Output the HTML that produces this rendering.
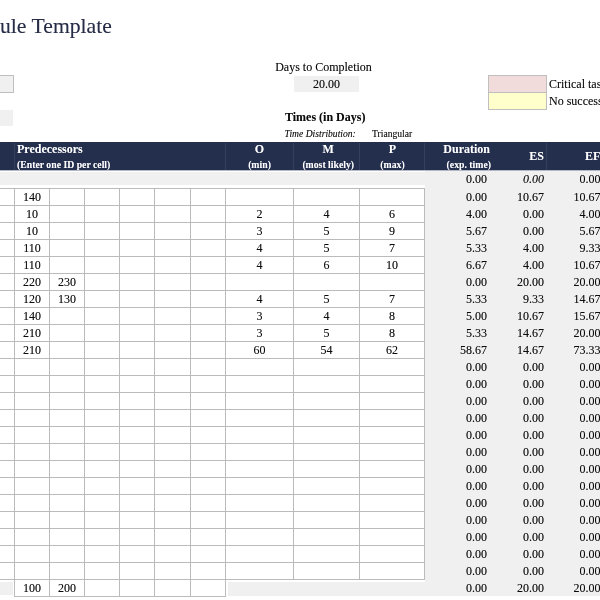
<!DOCTYPE html>
<html><head><meta charset="utf-8"><title>Schedule Template</title>
<style>
html,body{margin:0;padding:0;background:#fff;}
body{width:600px;height:600px;overflow:hidden;position:relative;font-family:"Liberation Serif","Times New Roman",serif;color:#0c0c0c;text-shadow:0 0 0.6px rgba(0,0,0,0.35);}
.a{position:absolute;white-space:nowrap;}
.t{position:absolute;white-space:nowrap;font-size:12px;line-height:17px;height:17px;}
.c{text-align:center;}
.r{text-align:right;}
.hl{position:absolute;background:#bbbbbb;height:1px;}
.vl{position:absolute;background:#bbbbbb;width:1px;}
.h{position:absolute;white-space:nowrap;color:#fff;font-weight:bold;text-shadow:0 0 0.6px rgba(255,255,255,0.3);}
</style></head><body>

<div class="a" style="left:0px;top:10.6px;font-size:21.7px;line-height:30px;color:#272c47;text-shadow:0 0 0.6px rgba(39,44,71,0.35);">ule Template</div>
<div class="a" style="left:-3px;top:75px;width:15px;height:16px;background:#f0f0f0;border:1px solid #bfbfbf;"></div>
<div class="a" style="left:0;top:110px;width:13px;height:16px;background:#f0f0f0;"></div>
<div class="a c" style="left:243.5px;width:160px;top:59px;font-size:12px;line-height:16px;">Days to Completion</div>
<div class="a c" style="left:294px;width:65px;top:76px;height:16px;background:#f0f0f0;font-size:12px;line-height:17px;">20.00</div>
<div class="a c" style="left:245.2px;width:160px;top:109px;font-size:12px;line-height:16px;font-weight:bold;">Times (in Days)</div>
<div class="a" style="left:284.6px;top:127.5px;font-size:9.6px;line-height:12px;font-style:italic;">Time Distribution:</div>
<div class="a" style="left:372px;top:127.5px;font-size:9.6px;line-height:12px;">Triangular</div>
<div class="a" style="left:488px;top:75px;width:57px;height:17px;background:#f2dcdb;border:1px solid #bfbfbf;"></div>
<div class="a" style="left:488px;top:92px;width:57px;height:16px;background:#ffffcc;border:1px solid #bfbfbf;"></div>
<div class="a" style="left:549px;top:75.6px;font-size:12px;line-height:16px;">Critical tasks</div>
<div class="a" style="left:549px;top:92.6px;font-size:12px;line-height:16px;">No successors</div>
<div class="a" style="left:425px;top:171px;width:175px;height:425px;background:#f0f0f0;"></div>
<div class="a" style="left:0;top:172px;width:600px;height:13px;background:#f0f0f0;"></div>
<div class="a" style="left:0;top:142px;width:600px;height:28px;background:#242e4d;"></div>
<div class="a" style="left:0;top:170px;width:600px;height:1px;background:#b4b8c4;"></div>
<div class="a" style="left:14px;top:143px;width:1px;height:27px;background:#353f60;"></div>
<div class="a" style="left:225px;top:143px;width:1px;height:27px;background:#353f60;"></div>
<div class="a" style="left:293px;top:143px;width:1px;height:27px;background:#353f60;"></div>
<div class="a" style="left:359px;top:143px;width:1px;height:27px;background:#353f60;"></div>
<div class="a" style="left:424px;top:143px;width:1px;height:27px;background:#353f60;"></div>
<div class="a" style="left:546px;top:143px;width:1px;height:27px;background:#353f60;"></div>
<div class="h" style="left:17px;top:142px;font-size:12px;line-height:14px;">Predecessors</div>
<div class="h" style="left:17px;top:157.5px;font-size:9.75px;line-height:14px;">(Enter one ID per cell)</div>
<div class="h c" style="left:225px;width:69px;top:142px;font-size:12px;line-height:14px;">O</div>
<div class="h c" style="left:225px;width:69px;top:157.5px;font-size:9.75px;line-height:14px;">(min)</div>
<div class="h c" style="left:294px;width:68.5px;top:142px;font-size:12px;line-height:14px;">M</div>
<div class="h c" style="left:294px;width:68.5px;top:157.5px;font-size:9.75px;line-height:14px;">(most likely)</div>
<div class="h c" style="left:359px;width:67px;top:142px;font-size:12px;line-height:14px;">P</div>
<div class="h c" style="left:359px;width:67px;top:157.5px;font-size:9.75px;line-height:14px;">(max)</div>
<div class="h r" style="left:426px;width:64px;top:142px;font-size:12px;line-height:14px;">Duration</div>
<div class="h r" style="left:426px;width:65px;top:157.5px;font-size:9.75px;line-height:14px;">(exp. time)</div>
<div class="h r" style="left:496px;width:48px;top:149px;font-size:12px;line-height:14px;">ES</div>
<div class="h" style="left:585px;top:149px;font-size:12px;line-height:14px;">EF</div>
<div class="t r" style="left:430px;width:57px;top:171px;">0.00</div>
<div class="t r" style="left:496px;width:48px;top:171px;font-style:italic;">0.00</div>
<div class="t r" style="left:550.5px;width:50px;top:171px;">0.00</div>
<div class="a" style="left:0;top:188px;width:425px;height:391px;background:#fff;"></div>
<div class="a" style="left:0;top:582px;width:13px;height:13px;background:#f0f0f0;"></div>
<div class="a" style="left:228px;top:582px;width:200px;height:14px;background:#f0f0f0;"></div>
<div class="hl" style="left:0;top:188px;width:425px;"></div>
<div class="hl" style="left:0;top:205px;width:425px;"></div>
<div class="hl" style="left:0;top:222px;width:425px;"></div>
<div class="hl" style="left:0;top:239px;width:425px;"></div>
<div class="hl" style="left:0;top:256px;width:425px;"></div>
<div class="hl" style="left:0;top:273px;width:425px;"></div>
<div class="hl" style="left:0;top:290px;width:425px;"></div>
<div class="hl" style="left:0;top:307px;width:425px;"></div>
<div class="hl" style="left:0;top:324px;width:425px;"></div>
<div class="hl" style="left:0;top:341px;width:425px;"></div>
<div class="hl" style="left:0;top:358px;width:425px;"></div>
<div class="hl" style="left:0;top:375px;width:425px;"></div>
<div class="hl" style="left:0;top:392px;width:425px;"></div>
<div class="hl" style="left:0;top:409px;width:425px;"></div>
<div class="hl" style="left:0;top:426px;width:425px;"></div>
<div class="hl" style="left:0;top:443px;width:425px;"></div>
<div class="hl" style="left:0;top:460px;width:425px;"></div>
<div class="hl" style="left:0;top:477px;width:425px;"></div>
<div class="hl" style="left:0;top:494px;width:425px;"></div>
<div class="hl" style="left:0;top:511px;width:425px;"></div>
<div class="hl" style="left:0;top:528px;width:425px;"></div>
<div class="hl" style="left:0;top:545px;width:425px;"></div>
<div class="hl" style="left:0;top:562px;width:425px;"></div>
<div class="hl" style="left:0;top:579px;width:425px;"></div>
<div class="hl" style="left:14px;top:596px;width:212px;"></div>
<div class="vl" style="left:14px;top:188px;height:409px;"></div>
<div class="vl" style="left:49px;top:188px;height:409px;"></div>
<div class="vl" style="left:84px;top:188px;height:409px;"></div>
<div class="vl" style="left:119px;top:188px;height:409px;"></div>
<div class="vl" style="left:154px;top:188px;height:409px;"></div>
<div class="vl" style="left:190px;top:188px;height:409px;"></div>
<div class="vl" style="left:225px;top:188px;height:409px;"></div>
<div class="vl" style="left:293px;top:188px;height:392px;"></div>
<div class="vl" style="left:359px;top:188px;height:392px;"></div>
<div class="vl" style="left:424px;top:188px;height:392px;"></div>
<div class="t c" style="left:15px;width:34px;top:189px;">140</div>
<div class="t r" style="left:430px;width:57px;top:189px;">0.00</div>
<div class="t r" style="left:496px;width:48px;top:189px;">10.67</div>
<div class="t r" style="left:550.5px;width:50px;top:189px;">10.67</div>
<div class="t c" style="left:15px;width:34px;top:206px;">10</div>
<div class="t c" style="left:226px;width:67px;top:206px;">2</div>
<div class="t c" style="left:294px;width:65px;top:206px;">4</div>
<div class="t c" style="left:360px;width:64px;top:206px;">6</div>
<div class="t r" style="left:430px;width:57px;top:206px;">4.00</div>
<div class="t r" style="left:496px;width:48px;top:206px;">0.00</div>
<div class="t r" style="left:550.5px;width:50px;top:206px;">4.00</div>
<div class="t c" style="left:15px;width:34px;top:223px;">10</div>
<div class="t c" style="left:226px;width:67px;top:223px;">3</div>
<div class="t c" style="left:294px;width:65px;top:223px;">5</div>
<div class="t c" style="left:360px;width:64px;top:223px;">9</div>
<div class="t r" style="left:430px;width:57px;top:223px;">5.67</div>
<div class="t r" style="left:496px;width:48px;top:223px;">0.00</div>
<div class="t r" style="left:550.5px;width:50px;top:223px;">5.67</div>
<div class="t c" style="left:15px;width:34px;top:240px;">110</div>
<div class="t c" style="left:226px;width:67px;top:240px;">4</div>
<div class="t c" style="left:294px;width:65px;top:240px;">5</div>
<div class="t c" style="left:360px;width:64px;top:240px;">7</div>
<div class="t r" style="left:430px;width:57px;top:240px;">5.33</div>
<div class="t r" style="left:496px;width:48px;top:240px;">4.00</div>
<div class="t r" style="left:550.5px;width:50px;top:240px;">9.33</div>
<div class="t c" style="left:15px;width:34px;top:257px;">110</div>
<div class="t c" style="left:226px;width:67px;top:257px;">4</div>
<div class="t c" style="left:294px;width:65px;top:257px;">6</div>
<div class="t c" style="left:360px;width:64px;top:257px;">10</div>
<div class="t r" style="left:430px;width:57px;top:257px;">6.67</div>
<div class="t r" style="left:496px;width:48px;top:257px;">4.00</div>
<div class="t r" style="left:550.5px;width:50px;top:257px;">10.67</div>
<div class="t c" style="left:15px;width:34px;top:274px;">220</div>
<div class="t c" style="left:50px;width:34px;top:274px;">230</div>
<div class="t r" style="left:430px;width:57px;top:274px;">0.00</div>
<div class="t r" style="left:496px;width:48px;top:274px;">20.00</div>
<div class="t r" style="left:550.5px;width:50px;top:274px;">20.00</div>
<div class="t c" style="left:15px;width:34px;top:291px;">120</div>
<div class="t c" style="left:50px;width:34px;top:291px;">130</div>
<div class="t c" style="left:226px;width:67px;top:291px;">4</div>
<div class="t c" style="left:294px;width:65px;top:291px;">5</div>
<div class="t c" style="left:360px;width:64px;top:291px;">7</div>
<div class="t r" style="left:430px;width:57px;top:291px;">5.33</div>
<div class="t r" style="left:496px;width:48px;top:291px;">9.33</div>
<div class="t r" style="left:550.5px;width:50px;top:291px;">14.67</div>
<div class="t c" style="left:15px;width:34px;top:308px;">140</div>
<div class="t c" style="left:226px;width:67px;top:308px;">3</div>
<div class="t c" style="left:294px;width:65px;top:308px;">4</div>
<div class="t c" style="left:360px;width:64px;top:308px;">8</div>
<div class="t r" style="left:430px;width:57px;top:308px;">5.00</div>
<div class="t r" style="left:496px;width:48px;top:308px;">10.67</div>
<div class="t r" style="left:550.5px;width:50px;top:308px;">15.67</div>
<div class="t c" style="left:15px;width:34px;top:325px;">210</div>
<div class="t c" style="left:226px;width:67px;top:325px;">3</div>
<div class="t c" style="left:294px;width:65px;top:325px;">5</div>
<div class="t c" style="left:360px;width:64px;top:325px;">8</div>
<div class="t r" style="left:430px;width:57px;top:325px;">5.33</div>
<div class="t r" style="left:496px;width:48px;top:325px;">14.67</div>
<div class="t r" style="left:550.5px;width:50px;top:325px;">20.00</div>
<div class="t c" style="left:15px;width:34px;top:342px;">210</div>
<div class="t c" style="left:226px;width:67px;top:342px;">60</div>
<div class="t c" style="left:294px;width:65px;top:342px;">54</div>
<div class="t c" style="left:360px;width:64px;top:342px;">62</div>
<div class="t r" style="left:430px;width:57px;top:342px;">58.67</div>
<div class="t r" style="left:496px;width:48px;top:342px;">14.67</div>
<div class="t r" style="left:550.5px;width:50px;top:342px;">73.33</div>
<div class="t r" style="left:430px;width:57px;top:359px;">0.00</div>
<div class="t r" style="left:496px;width:48px;top:359px;">0.00</div>
<div class="t r" style="left:550.5px;width:50px;top:359px;">0.00</div>
<div class="t r" style="left:430px;width:57px;top:376px;">0.00</div>
<div class="t r" style="left:496px;width:48px;top:376px;">0.00</div>
<div class="t r" style="left:550.5px;width:50px;top:376px;">0.00</div>
<div class="t r" style="left:430px;width:57px;top:393px;">0.00</div>
<div class="t r" style="left:496px;width:48px;top:393px;">0.00</div>
<div class="t r" style="left:550.5px;width:50px;top:393px;">0.00</div>
<div class="t r" style="left:430px;width:57px;top:410px;">0.00</div>
<div class="t r" style="left:496px;width:48px;top:410px;">0.00</div>
<div class="t r" style="left:550.5px;width:50px;top:410px;">0.00</div>
<div class="t r" style="left:430px;width:57px;top:427px;">0.00</div>
<div class="t r" style="left:496px;width:48px;top:427px;">0.00</div>
<div class="t r" style="left:550.5px;width:50px;top:427px;">0.00</div>
<div class="t r" style="left:430px;width:57px;top:444px;">0.00</div>
<div class="t r" style="left:496px;width:48px;top:444px;">0.00</div>
<div class="t r" style="left:550.5px;width:50px;top:444px;">0.00</div>
<div class="t r" style="left:430px;width:57px;top:461px;">0.00</div>
<div class="t r" style="left:496px;width:48px;top:461px;">0.00</div>
<div class="t r" style="left:550.5px;width:50px;top:461px;">0.00</div>
<div class="t r" style="left:430px;width:57px;top:478px;">0.00</div>
<div class="t r" style="left:496px;width:48px;top:478px;">0.00</div>
<div class="t r" style="left:550.5px;width:50px;top:478px;">0.00</div>
<div class="t r" style="left:430px;width:57px;top:495px;">0.00</div>
<div class="t r" style="left:496px;width:48px;top:495px;">0.00</div>
<div class="t r" style="left:550.5px;width:50px;top:495px;">0.00</div>
<div class="t r" style="left:430px;width:57px;top:512px;">0.00</div>
<div class="t r" style="left:496px;width:48px;top:512px;">0.00</div>
<div class="t r" style="left:550.5px;width:50px;top:512px;">0.00</div>
<div class="t r" style="left:430px;width:57px;top:529px;">0.00</div>
<div class="t r" style="left:496px;width:48px;top:529px;">0.00</div>
<div class="t r" style="left:550.5px;width:50px;top:529px;">0.00</div>
<div class="t r" style="left:430px;width:57px;top:546px;">0.00</div>
<div class="t r" style="left:496px;width:48px;top:546px;">0.00</div>
<div class="t r" style="left:550.5px;width:50px;top:546px;">0.00</div>
<div class="t r" style="left:430px;width:57px;top:563px;">0.00</div>
<div class="t r" style="left:496px;width:48px;top:563px;">0.00</div>
<div class="t r" style="left:550.5px;width:50px;top:563px;">0.00</div>
<div class="t c" style="left:15px;width:34px;top:580px;">100</div>
<div class="t c" style="left:50px;width:34px;top:580px;">200</div>
<div class="t r" style="left:430px;width:57px;top:580px;">0.00</div>
<div class="t r" style="left:496px;width:48px;top:580px;">20.00</div>
<div class="t r" style="left:550.5px;width:50px;top:580px;">20.00</div>
</body></html>
